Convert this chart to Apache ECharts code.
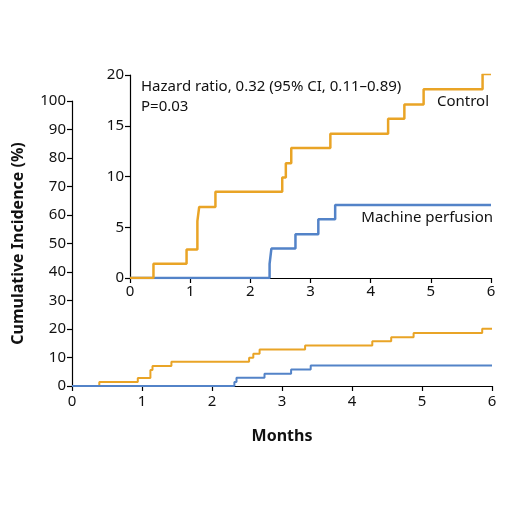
<!DOCTYPE html>
<html><head><meta charset="utf-8">
<script src="https://cdn.jsdelivr.net/npm/echarts@6/dist/echarts.min.js"></script>
<style>html,body{margin:0;padding:0;background:#fff}#c{width:512px;height:512px}</style>
</head><body><div id="c"></div>
<script>
const controlMonths = [0, 0.39, 0.94, 1.12, 1.15, 1.42, 2.53, 2.59, 2.68, 3.33, 4.29, 4.56, 4.88, 5.86, 6];
const controlValues = [0, 1.4, 2.8, 5.6, 7.0, 8.5, 9.9, 11.3, 12.8, 14.2, 15.7, 17.1, 18.6, 20.1, 20.1];
const perfusionMonths = [0, 2.32, 2.35, 2.75, 3.13, 3.41, 6];
const perfusionValues = [0, 1.4, 2.9, 4.3, 5.8, 7.2, 7.2];
const mainYTicks = [0, 10, 20, 30, 40, 50, 60, 70, 80, 90, 100];
const insetYTicks = [0, 5, 10, 15, 20];
const monthTicks = [0, 1, 2, 3, 4, 5, 6];

const ORANGE = '#E9A426';
const BLUE = '#5383C8';
const FONT = 'Noto Sans';
const pairs = (xs, ys) => xs.map((x, i) => [x, ys[i]]);

const chart = echarts.init(document.getElementById('c'));
const axisCommon = {
  axisLine: {show: true, lineStyle: {color: '#000', width: 1.2}},
  axisTick: {show: true, length: 5, lineStyle: {color: '#000', width: 1.2}},
  splitLine: {show: false},
  axisLabel: {color: '#111', fontFamily: FONT, fontSize: 15}
};
chart.setOption({
  animation: false,
  grid: [
    {left: 72, right: 20, top: 101, bottom: 126},
    {left: 130, right: 21, top: 75, bottom: 234}
  ],
  xAxis: [
    Object.assign({}, axisCommon, {gridIndex: 0, type: 'value', min: 0, max: 6, interval: 1,
      name: 'Months', nameLocation: 'middle', nameGap: 42,
      nameTextStyle: {fontFamily: FONT, fontSize: 16, fontWeight: 'bold', color: '#111'},
      axisLabel: Object.assign({}, axisCommon.axisLabel, {margin: 8})}),
    Object.assign({}, axisCommon, {gridIndex: 1, type: 'value', min: 0, max: 6, interval: 1,
      axisLabel: Object.assign({}, axisCommon.axisLabel, {margin: 6})})
  ],
  yAxis: [
    Object.assign({}, axisCommon, {gridIndex: 0, type: 'value', min: 0, max: 100, interval: 10,
      name: 'Cumulative Incidence (%)', nameLocation: 'middle', nameGap: 46,
      nameTextStyle: {fontFamily: FONT, fontSize: 16, fontWeight: 'bold', color: '#111'},
      axisLabel: Object.assign({}, axisCommon.axisLabel, {margin: 6})}),
    Object.assign({}, axisCommon, {gridIndex: 1, type: 'value', min: 0, max: 20, interval: 5,
      axisLabel: Object.assign({}, axisCommon.axisLabel, {margin: 6})})
  ],
  series: [
    {type: 'line', xAxisIndex: 0, yAxisIndex: 0, step: 'end', symbol: 'none', z: 2,
      data: pairs(controlMonths, controlValues), lineStyle: {color: ORANGE, width: 2}},
    {type: 'line', xAxisIndex: 0, yAxisIndex: 0, step: 'end', symbol: 'none', z: 3,
      data: pairs(perfusionMonths, perfusionValues), lineStyle: {color: BLUE, width: 2}},
    {type: 'line', xAxisIndex: 1, yAxisIndex: 1, step: 'end', symbol: 'none', z: 2,
      data: pairs(perfusionMonths, perfusionValues), lineStyle: {color: BLUE, width: 2.5}},
    {type: 'line', xAxisIndex: 1, yAxisIndex: 1, step: 'end', symbol: 'none', z: 3,
      data: pairs(controlMonths, controlValues), lineStyle: {color: ORANGE, width: 2.5}}
  ],
  graphic: [
    {type: 'text', left: 141, top: 79, style: {text: 'Hazard ratio, 0.32 (95% CI, 0.11–0.89)', fontFamily: FONT, fontSize: 15, fill: '#111'}},
    {type: 'text', left: 141, top: 99, style: {text: 'P=0.03', fontFamily: FONT, fontSize: 15, fill: '#111'}},
    {type: 'text', right: 23, top: 94, style: {text: 'Control', fontFamily: FONT, fontSize: 15, fill: '#111'}},
    {type: 'text', right: 19, top: 210, style: {text: 'Machine perfusion', fontFamily: FONT, fontSize: 15, fill: '#111'}}
  ]
});
</script></body></html>
